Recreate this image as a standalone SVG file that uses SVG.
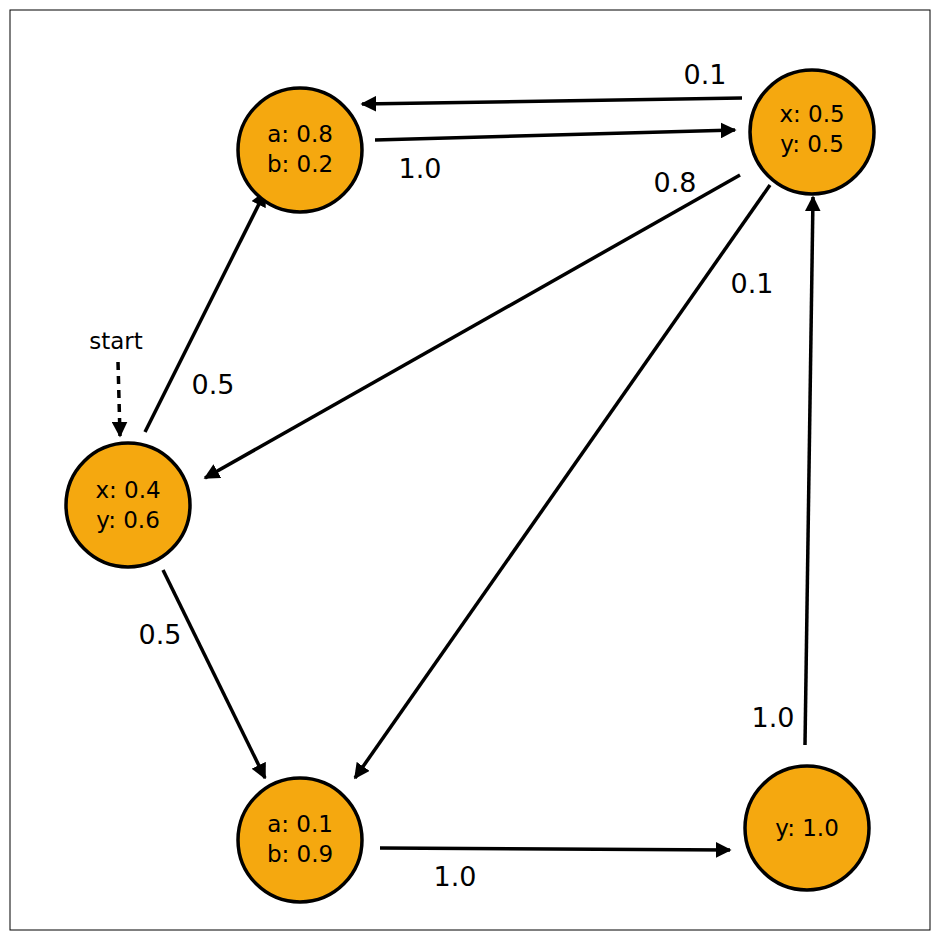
<svg xmlns="http://www.w3.org/2000/svg" width="940" height="940" viewBox="0 0 940 940">
<style>
.n{fill:#f5a80f;stroke:#000;stroke-width:3.5}
.t{font-family:"DejaVu Sans",sans-serif;font-size:23px;fill:#000;text-anchor:middle}
.l{font-family:"DejaVu Sans",sans-serif;font-size:27px;fill:#000;text-anchor:middle}
.e{stroke:#000;stroke-width:3.5;fill:none;marker-end:url(#a)}
</style>
<defs><marker id="a" viewBox="0 0 10 10" refX="9" refY="5" markerWidth="4.5" markerHeight="4.5" orient="auto" markerUnits="strokeWidth"><path d="M0,0L10,5L0,10z" fill="#000"/></marker></defs>
<rect x="10" y="10" width="920" height="920" fill="#fff" stroke="#000" stroke-width="1"/>
<g id="connectors">
<path class="e" d="M742,98L362,104"/>
<path class="e" d="M375,140L735,130"/>
<path class="e" d="M740,175L205,478"/>
<path class="e" d="M770,185L355,778"/>
<path class="e" d="M145,432L265,192"/>
<path class="e" d="M163,570L265,778"/>
<path class="e" d="M380,848L730,850"/>
<path class="e" d="M805,745L813,197"/>
<path class="e" d="M118,362L120,436" stroke-dasharray="8 6"/>
<text class="l" x="705" y="84">0.1</text>
<text class="l" x="420" y="178">1.0</text>
<text class="l" x="675" y="192">0.8</text>
<text class="l" x="752" y="293">0.1</text>
<text class="l" x="213" y="394">0.5</text>
<text class="l" x="160" y="644">0.5</text>
<text class="l" x="455" y="886">1.0</text>
<text class="l" x="773" y="727">1.0</text>
<text class="t" x="116" y="349">start</text>
</g>
<g id="nA"><circle class="n" cx="300" cy="150" r="62"/><text class="t" x="300" y="142">a: 0.8</text><text class="t" x="300" y="172">b: 0.2</text></g>
<g id="nB"><circle class="n" cx="812" cy="132" r="62"/><text class="t" x="812" y="122">x: 0.5</text><text class="t" x="812" y="152">y: 0.5</text></g>
<g id="nC"><circle class="n" cx="128" cy="505" r="62"/><text class="t" x="128" y="498">x: 0.4</text><text class="t" x="128" y="528">y: 0.6</text></g>
<g id="nD"><circle class="n" cx="300" cy="840" r="62"/><text class="t" x="300" y="832">a: 0.1</text><text class="t" x="300" y="862">b: 0.9</text></g>
<g id="nE"><circle class="n" cx="807" cy="828" r="62"/><text class="t" x="807" y="836">y: 1.0</text></g>
</svg>
